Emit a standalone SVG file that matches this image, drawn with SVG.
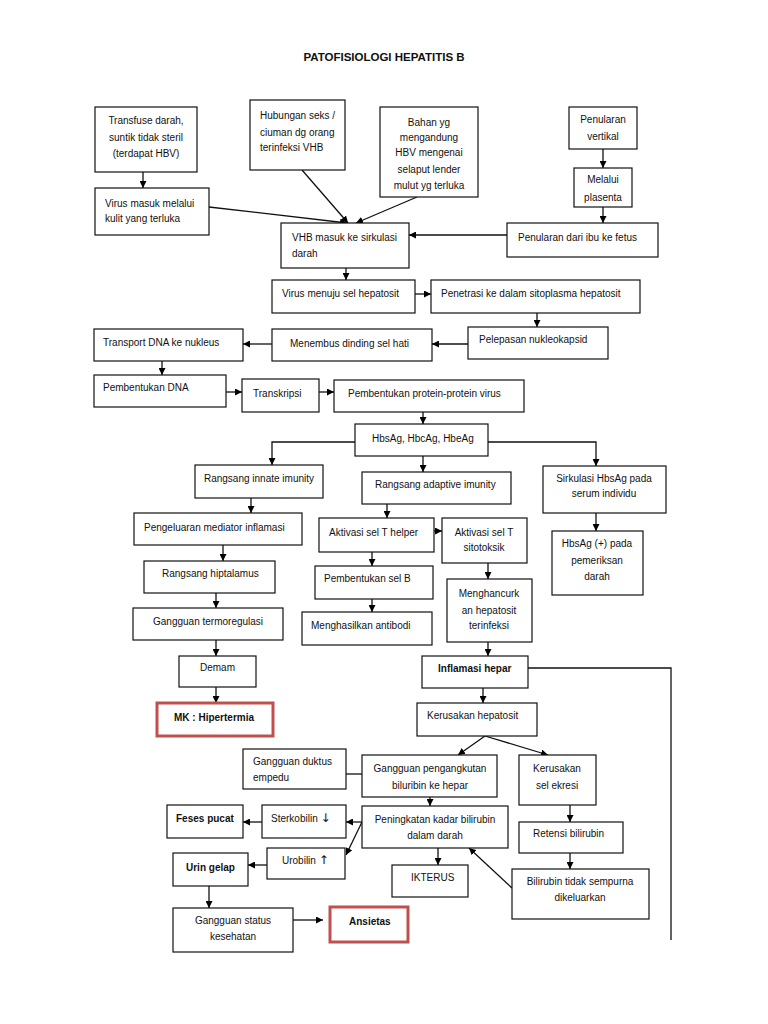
<svg xmlns="http://www.w3.org/2000/svg" width="768" height="1024" viewBox="0 0 768 1024">
<defs>
<marker id="ah" markerUnits="userSpaceOnUse" markerWidth="7" markerHeight="7" refX="7" refY="3.5" orient="auto"><path d="M0,0 L7,3.5 L0,7 z" fill="#000"/></marker>
<style>
.b{fill:#fff;stroke:#111;stroke-width:1.2}
.r{fill:#fff;stroke:#c0504d;stroke-width:3}
text{font-family:"Liberation Sans",Arial,sans-serif;font-size:10px;fill:#111}
.c{text-anchor:middle}
.bd{font-weight:bold}
.ln{fill:none;stroke:#111;stroke-width:1.3}
.a{marker-end:url(#ah)}
.sym{font-family:"DejaVu Sans",sans-serif;font-size:12px}
</style>
</defs>
<rect width="768" height="1024" fill="#fff"/>
<text x="384" y="61" class="c bd" style="font-size:11.5px">PATOFISIOLOGI HEPATITIS B</text>

<g id="connectors">
<path class="ln a" d="M143,172 V188"/>
<path class="ln a" d="M209,207 L347,223"/>
<path class="ln a" d="M302,170 L348,223"/>
<path class="ln a" d="M417,197 L356,223"/>
<path class="ln a" d="M603,149 V168"/>
<path class="ln a" d="M603,207 V223"/>
<path class="ln a" d="M507,235 H409"/>
<path class="ln a" d="M346,268 V280"/>
<path class="ln a" d="M415,294 H431"/>
<path class="ln a" d="M537,313 V327"/>
<path class="ln a" d="M468,344 H432"/>
<path class="ln a" d="M272,344 H243"/>
<path class="ln a" d="M162,361 V375"/>
<path class="ln a" d="M226,392 H242"/>
<path class="ln a" d="M319,392 H334"/>
<path class="ln a" d="M423,412 V424"/>
<path class="ln a" d="M355,442 H272 V465"/>
<path class="ln a" d="M423,456 V472"/>
<path class="ln a" d="M488,442 H596 V466"/>
<path class="ln a" d="M596,513 V531"/>
<path class="ln a" d="M251,498 V513"/>
<path class="ln a" d="M223,545 V561"/>
<path class="ln a" d="M216,593 V608"/>
<path class="ln a" d="M216,640 V656"/>
<path class="ln a" d="M216,687 V703"/>
<path class="ln a" d="M387,504 V518"/>
<path class="ln a" d="M434,531 H442"/>
<path class="ln a" d="M372,552 V566"/>
<path class="ln a" d="M372,599 V612"/>
<path class="ln a" d="M488,563 V579"/>
<path class="ln a" d="M488,642 V656"/>
<path class="ln" d="M528,668 H671 V940"/>
<path class="ln a" d="M483,688 V703"/>
<path class="ln a" d="M485,736 L458,755"/>
<path class="ln a" d="M485,736 L548,755"/>
<path class="ln" d="M346,774 H362"/>
<path class="ln a" d="M430,797 V806"/>
<path class="ln a" d="M362,822 H346"/>
<path class="ln a" d="M362,822 L346,855"/>
<path class="ln a" d="M262,822 H243"/>
<path class="ln a" d="M267,865 H248"/>
<path class="ln a" d="M209,886 V908"/>
<path class="ln a" d="M293,920 H323"/>
<path class="ln a" d="M438,848 V865"/>
<path class="ln a" d="M570,805 V822"/>
<path class="ln a" d="M570,853 V869"/>
<path class="ln a" d="M512,888 L469,848"/>
</g>

<g id="n_transfuse"><rect class="b" x="95" y="107" width="102" height="65"/><text class="c" x="146" y="124">Transfuse darah,</text><text class="c" x="146" y="141">suntik tidak steril</text><text class="c" x="146" y="157">(terdapat HBV)</text></g>
<g id="n_hubungan"><rect class="b" x="250" y="100" width="95" height="70"/><text x="260" y="119">Hubungan seks /</text><text x="260" y="136">ciuman dg orang</text><text x="260" y="151">terinfeksi VHB</text></g>
<g id="n_bahan"><rect class="b" x="380" y="107" width="98" height="90"/><text class="c" x="429" y="126">Bahan yg</text><text class="c" x="429" y="141">mengandung</text><text class="c" x="429" y="156">HBV mengenai</text><text class="c" x="429" y="173">selaput lender</text><text class="c" x="429" y="189">mulut yg terluka</text></g>
<g id="n_vertikal"><rect class="b" x="569" y="107" width="68" height="42"/><text class="c" x="603" y="123">Penularan</text><text class="c" x="603" y="140">vertikal</text></g>
<g id="n_plasenta"><rect class="b" x="574" y="168" width="58" height="39"/><text class="c" x="603" y="183">Melalui</text><text class="c" x="603" y="201">plasenta</text></g>
<g id="n_virusmasuk"><rect class="b" x="95" y="188" width="114" height="47"/><text x="105" y="207">Virus masuk melalui</text><text x="105" y="222">kulit yang terluka</text></g>
<g id="n_vhb"><rect class="b" x="281" y="223" width="128" height="45"/><text x="292" y="241">VHB masuk ke sirkulasi</text><text x="292" y="257">darah</text></g>
<g id="n_ibu"><rect class="b" x="507" y="223" width="151" height="34"/><text x="518" y="241">Penularan dari ibu ke fetus</text></g>
<g id="n_menuju"><rect class="b" x="272" y="280" width="143" height="33"/><text x="282" y="297">Virus menuju sel hepatosit</text></g>
<g id="n_penetrasi"><rect class="b" x="431" y="280" width="209" height="33"/><text x="441" y="297">Penetrasi ke dalam sitoplasma hepatosit</text></g>
<g id="n_pelepasan"><rect class="b" x="468" y="327" width="140" height="32"/><text x="479" y="343">Pelepasan nukleokapsid</text></g>
<g id="n_menembus"><rect class="b" x="272" y="329" width="160" height="32"/><text x="290" y="347">Menembus dinding sel hati</text></g>
<g id="n_transport"><rect class="b" x="94" y="329" width="149" height="32"/><text x="103" y="346">Transport DNA ke nukleus</text></g>
<g id="n_dna"><rect class="b" x="94" y="375" width="132" height="32"/><text x="103" y="391">Pembentukan DNA</text></g>
<g id="n_transkripsi"><rect class="b" x="242" y="379" width="77" height="33"/><text x="253" y="397">Transkripsi</text></g>
<g id="n_protein"><rect class="b" x="334" y="380" width="190" height="32"/><text x="348" y="397">Pembentukan protein-protein virus</text></g>
<g id="n_hbsag"><rect class="b" x="355" y="424" width="133" height="32"/><text x="372" y="442">HbsAg, HbcAg, HbeAg</text></g>
<g id="n_innate"><rect class="b" x="195" y="465" width="128" height="33"/><text class="c" x="259" y="482">Rangsang innate imunity</text></g>
<g id="n_adaptive"><rect class="b" x="362" y="472" width="149" height="32"/><text x="375" y="488">Rangsang adaptive imunity</text></g>
<g id="n_sirkulasi"><rect class="b" x="543" y="466" width="123" height="47"/><text class="c" x="604" y="482">Sirkulasi HbsAg pada</text><text class="c" x="604" y="497">serum individu</text></g>
<g id="n_hbsagpos"><rect class="b" x="552" y="531" width="91" height="64"/><text class="c" x="597" y="547">HbsAg (+) pada</text><text class="c" x="597" y="564">pemeriksan</text><text class="c" x="597" y="580">darah</text></g>
<g id="n_pengeluaran"><rect class="b" x="134" y="513" width="168" height="32"/><text x="144" y="531">Pengeluaran mediator inflamasi</text></g>
<g id="n_thelper"><rect class="b" x="319" y="518" width="115" height="34"/><text x="329" y="536">Aktivasi sel T helper</text></g>
<g id="n_sitotoksik"><rect class="b" x="442" y="518" width="85" height="45"/><text class="c" x="484" y="536">Aktivasi sel T</text><text class="c" x="484" y="551">sitotoksik</text></g>
<g id="n_hiptalamus"><rect class="b" x="144" y="561" width="131" height="32"/><text x="162" y="577">Rangsang hiptalamus</text></g>
<g id="n_selb"><rect class="b" x="315" y="566" width="118" height="33"/><text x="324" y="582">Pembentukan sel B</text></g>
<g id="n_menghancur"><rect class="b" x="447" y="579" width="85" height="63"/><text class="c" x="489" y="597">Menghancurk</text><text class="c" x="489" y="614">an hepatosit</text><text class="c" x="489" y="629">terinfeksi</text></g>
<g id="n_termo"><rect class="b" x="133" y="608" width="150" height="32"/><text x="153" y="625">Gangguan termoregulasi</text></g>
<g id="n_antibodi"><rect class="b" x="302" y="612" width="130" height="33"/><text x="311" y="629">Menghasilkan antibodi</text></g>
<g id="n_demam"><rect class="b" x="179" y="656" width="77" height="31"/><text x="200" y="671">Demam</text></g>
<g id="n_hipertermia"><rect class="r" x="157" y="703" width="116" height="33"/><text class="bd" x="174" y="721">MK : Hipertermia</text></g>
<g id="n_inflamasi"><rect class="b" x="422" y="656" width="106" height="32"/><text class="bd" x="438" y="672">Inflamasi hepar</text></g>
<g id="n_kerusakan"><rect class="b" x="417" y="703" width="120" height="33"/><text x="427" y="719">Kerusakan hepatosit</text></g>
<g id="n_duktus"><rect class="b" x="243" y="749" width="103" height="40"/><text x="253" y="765">Gangguan duktus</text><text x="253" y="781">empedu</text></g>
<g id="n_pengangkutan"><rect class="b" x="362" y="755" width="135" height="42"/><text class="c" x="430" y="772">Gangguan pengangkutan</text><text class="c" x="430" y="789">biluribin ke hepar</text></g>
<g id="n_ekresi"><rect class="b" x="519" y="755" width="77" height="50"/><text class="c" x="557" y="772">Kerusakan</text><text class="c" x="557" y="789">sel ekresi</text></g>
<g id="n_peningkatan"><rect class="b" x="362" y="806" width="146" height="42"/><text class="c" x="435" y="823">Peningkatan kadar bilirubin</text><text class="c" x="435" y="839">dalam darah</text></g>
<g id="n_sterkobilin"><rect class="b" x="262" y="805" width="84" height="33"/><text x="271" y="822">Sterkobilin <tspan class="sym">↓</tspan></text></g>
<g id="n_feses"><rect class="b" x="167" y="805" width="76" height="33"/><text class="bd" x="176" y="822">Feses pucat</text></g>
<g id="n_urobilin"><rect class="b" x="267" y="848" width="78" height="31"/><text x="282" y="864">Urobilin <tspan class="sym">↑</tspan></text></g>
<g id="n_urin"><rect class="b" x="173" y="853" width="75" height="33"/><text class="bd" x="186" y="871">Urin gelap</text></g>
<g id="n_ikterus"><rect class="b" x="392" y="865" width="76" height="32"/><text x="411" y="881">IKTERUS</text></g>
<g id="n_retensi"><rect class="b" x="519" y="822" width="104" height="31"/><text x="533" y="837">Retensi bilirubin</text></g>
<g id="n_bilirubin"><rect class="b" x="512" y="869" width="137" height="50"/><text class="c" x="580" y="885">Bilirubin tidak sempurna</text><text class="c" x="580" y="901">dikeluarkan</text></g>
<g id="n_status"><rect class="b" x="173" y="908" width="120" height="44"/><text class="c" x="233" y="924">Gangguan status</text><text class="c" x="233" y="940">kesehatan</text></g>
<g id="n_ansietas"><rect class="r" x="330" y="907" width="78" height="35"/><text class="bd" x="349" y="925">Ansietas</text></g>
</svg>
